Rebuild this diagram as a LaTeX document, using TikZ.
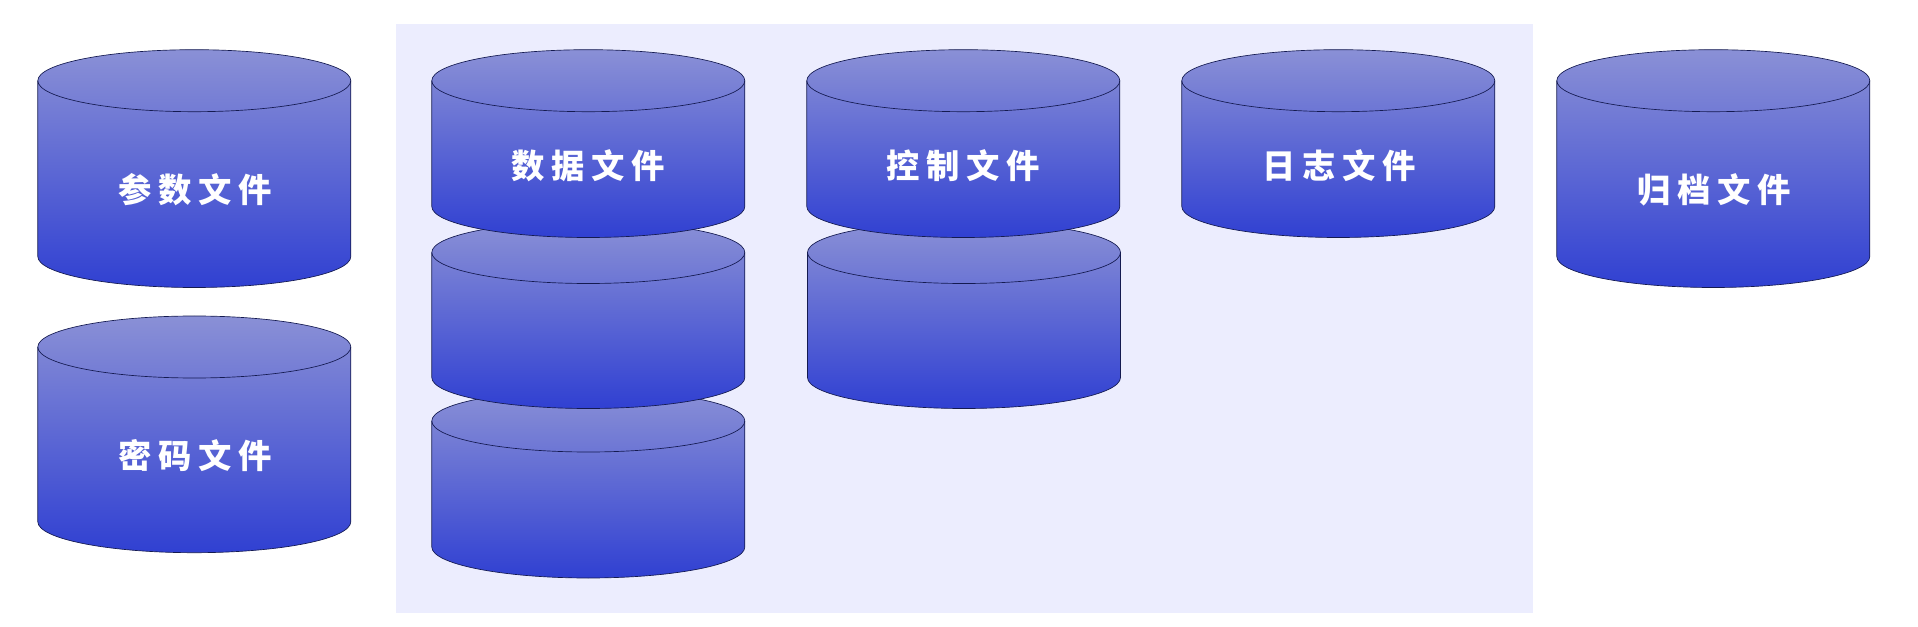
\documentclass[tikz,border=0pt]{standalone}
\usepackage{fontspec}
\newfontfamily\cjk[LetterSpace=20]{Noto Sans CJK SC}
\definecolor{cyltop}{HTML}{8A90D6}
\definecolor{cylbot}{HTML}{3040D2}
\definecolor{cylline}{HTML}{141A50}
\definecolor{panelbg}{HTML}{ECEDFE}
\tikzset{
  x=0.75pt,y=-0.75pt,
  cyllabel/.style={text=white,font=\cjk\bfseries\fontsize{25}{30}\selectfont,inner sep=0pt,anchor=center},
  cylshade/.style={top color=cyltop,bottom color=cylbot,draw=cylline,line width=0.5pt},
  cylrim/.style={draw=cylline,line width=0.5pt},
}
% left x, top y, bottom y
\newcommand{\drum}[3]{%
  \path[cylshade] (#1,#2+31) arc[start angle=180,end angle=0,x radius=156.5,y radius=-31]
    -- (#1+313,#3-31) arc[start angle=0,end angle=-180,x radius=156.5,y radius=-31] -- cycle;
  \draw[cylrim] (#1,#2+31) arc[start angle=180,end angle=360,x radius=156.5,y radius=-31];
}
\begin{document}
\begin{tikzpicture}
\useasboundingbox (0,0) rectangle (1918,627);
\fill[panelbg] (396,24) rectangle (1532.5,613);
\drum{37.8}{49.7}{287.5}
\drum{37.8}{316}{552.7}
\drum{431.8}{390}{578}
\drum{431.8}{221.5}{408.5}
\drum{431.8}{49.7}{237.5}
\drum{807.5}{221.5}{408.5}
\drum{806.8}{49.7}{237.5}
\drum{1181.8}{49.7}{237.5}
\drum{1556.8}{49.7}{287.5}
\node[cyllabel] (param) at (195,190) {参数文件};
\node[cyllabel] (passwd) at (195,456) {密码文件};
\node[cyllabel] (datafile) at (588,166) {数据文件};
\node[cyllabel] (ctrl) at (963,166) {控制文件};
\node[cyllabel] (logfile) at (1339,166) {日志文件};
\node[cyllabel] (arch) at (1714,190) {归档文件};
\end{tikzpicture}
\end{document}
